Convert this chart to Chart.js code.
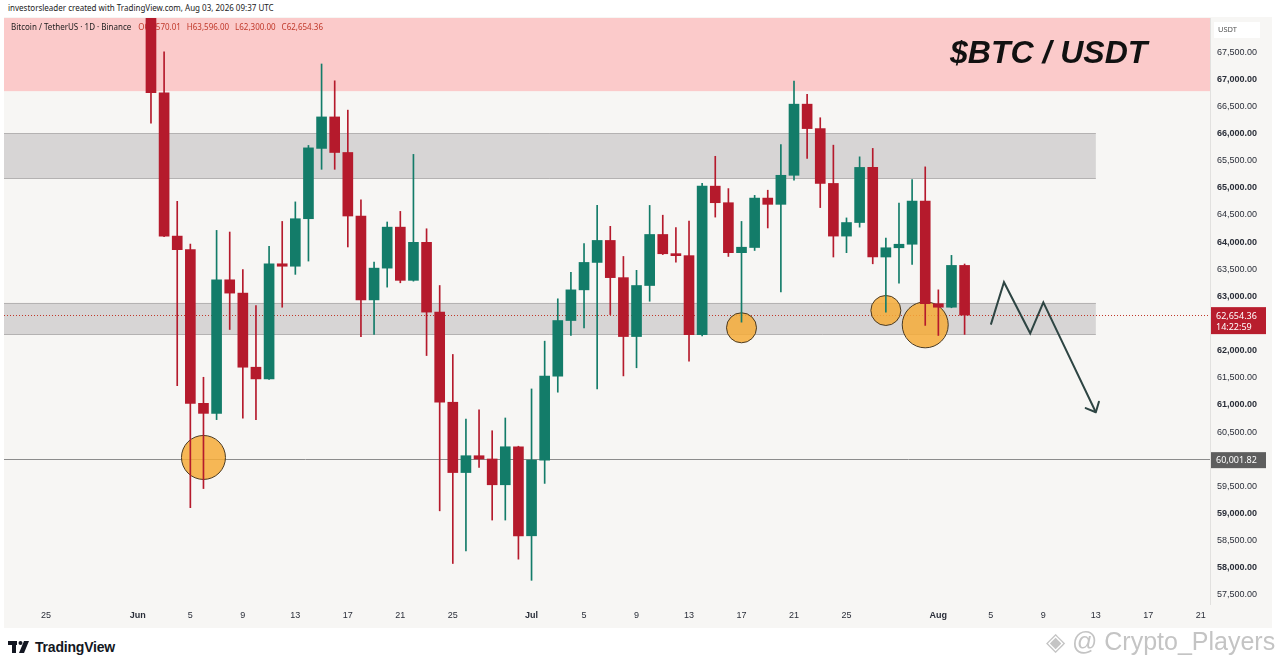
<!DOCTYPE html>
<html>
<head>
<meta charset="utf-8">
<script src="https://cdn.jsdelivr.net/npm/chart.js@4.4.1/dist/chart.umd.min.js"></script>
<style>
  html, body { margin: 0; padding: 0; background: #fff; width: 1280px; height: 668px; overflow: hidden; }
  body { font-family: "Noto Sans", sans-serif; position: relative; }
  #hdr { position: absolute; left: 8px; top: 2px; font-size: 8px; color: #222; white-space: nowrap; }
  #panel { position: absolute; left: 4px; top: 17px; width: 1268px; height: 611px; background: #f7f6f4; }
  #title { position: absolute; left: 950px; top: 36px; font: italic bold 32px/32px "Liberation Sans", Arial, sans-serif; color: #111; white-space: nowrap; }
  #logo { position: absolute; left: 8px; top: 638px; height: 18px; display: flex; align-items: center; }
  #logo span { font: bold 14px "Liberation Sans", Arial, sans-serif; color: #131722; margin-left: 3px; letter-spacing: -0.2px; }
  #wm { position: absolute; left: 1046px; top: 627px; font: 25px "Liberation Sans", Arial, sans-serif; color: #c4c4c4; white-space: nowrap; }
</style>
</head>
<body>
<div id="hdr">investorsleader created with TradingView.com, Aug 03, 2026 09:37 UTC</div>
<div id="panel"><canvas id="chart" width="1268" height="611"></canvas></div>
<div id="title">$BTC / USDT</div>
<div id="logo">
  <svg width="24" height="14" viewBox="0 0 24 14"><rect x="0" y="1" width="9" height="4" fill="#131722"/><rect x="4" y="1" width="4" height="12" fill="#131722"/><circle cx="12.5" cy="3" r="2" fill="#131722"/><polygon points="16,1 21,1 16,13 11,13" fill="#131722"/></svg>
  <span>TradingView</span>
</div>
<div id="wm">&#9672; @ Crypto_Players</div>
<script>
// daily candles, Jun 02 .. Aug 03
const candleDates = ['06-02','06-03','06-04','06-05','06-06','06-07','06-08','06-09','06-10','06-11',
  '06-12','06-13','06-14','06-15','06-16','06-17','06-18','06-19','06-20','06-21','06-22','06-23',
  '06-24','06-25','06-26','06-27','06-28','06-29','06-30','07-01','07-02','07-03','07-04','07-05',
  '07-06','07-07','07-08','07-09','07-10','07-11','07-12','07-13','07-14','07-15','07-16','07-17',
  '07-18','07-19','07-20','07-21','07-22','07-23','07-24','07-25','07-26','07-27','07-28','07-29',
  '07-30','07-31','08-01','08-02','08-03'];
const opens = [68500, 66750, 64110, 63860, 61030, 60845, 63305, 63060, 61695, 61480,
  63600, 63555, 64430, 65725, 66305, 65650, 64480, 62935, 63520, 64275, 63295, 63995,
  62710, 61050, 59755, 60065, 60005, 59530, 60230, 58590, 59985, 61530, 62555, 63120,
  63625, 64030, 63345, 62260, 63200, 64140, 63785, 63750, 62295, 65030, 64725, 63805,
  63900, 64810, 64695, 65230, 66540, 66090, 65080, 64110, 64360, 65375, 63725, 63895,
  63960, 64755, 62865, 62800, 63570.01];
const highs = [68900, 67505, 64750, 63965, 61510, 64215, 64185, 63495, 62830, 63920,
  64380, 64740, 65780, 67280, 66970, 66430, 64780, 63630, 64370, 64565, 65615, 64245,
  63200, 61930, 60740, 60910, 60525, 60760, 60240, 61295, 62175, 62955, 63445, 63970,
  64675, 64290, 63735, 63480, 64675, 64495, 64265, 64385, 65080, 65580, 64985, 64380,
  64860, 64955, 65795, 66965, 66720, 66290, 65785, 64445, 65570, 65725, 64075, 64720,
  65150, 65385, 63120, 63755, 63596];
const lows = [66190, 64100, 61355, 59110, 59460, 60730, 62390, 60755, 60730, 61470,
  62800, 63405, 63650, 65340, 65340, 63910, 62260, 62300, 63170, 63250, 63280, 61910,
  59050, 58080, 58310, 59850, 58880, 58880, 58160, 57770, 59555, 61235, 62280, 62420,
  61295, 62665, 61535, 61685, 62910, 63770, 63630, 61805, 62270, 64460, 63735, 62525,
  63845, 64260, 63080, 65140, 65540, 64635, 63725, 63805, 64275, 63600, 62710, 63245,
  63590, 62465, 62280, 62790, 62300];
const closes = [66750, 64110, 63860, 61030, 60845, 63305, 63060, 61695, 61480, 63600,
  63555, 64430, 65735, 66305, 65650, 64480, 62935, 63520, 64275, 63295, 63995, 62710,
  61050, 59755, 60065, 60005, 59530, 60230, 58590, 59985, 61530, 62555, 63120, 63625,
  64030, 63345, 62260, 63200, 64140, 63785, 63750, 62295, 65030, 64725, 63805, 63905,
  64810, 64695, 65230, 66540, 66090, 65080, 64110, 64360, 65375, 63725, 63895, 63960,
  64755, 62865, 62800, 63570.01, 62654.36];

const xTickDates = ['05-25','06-01','06-05','06-09','06-13','06-17','06-21','06-25','07-01','07-05',
  '07-09','07-13','07-17','07-21','07-25','08-01','08-05','08-09','08-13','08-17','08-21'];
const xTickLabels = ['25','Jun','5','9','13','17','21','25','Jul','5','9','13','17','21','25','Aug','5','9','13','17','21'];
const yTickValues = [57500, 58000, 58500, 59000, 59500, 60000, 60500, 61000, 61500, 62000, 62500,
  63000, 63500, 64000, 64500, 65000, 65500, 66000, 66500, 67000, 67500];

// supply / demand zones
const zoneHigh = [69000, 66000, 62880];
const zoneLow = [66780, 65175, 62300];
const zoneEndDates = [null, '08-13', '08-13'];

const supportLevel = 60001.82;
const lastPrice = 62654.36;
const lastCountdown = '14:22:59';
const legendText = 'Bitcoin / TetherUS \u00b7 1D \u00b7 Binance';
const legendOHLC = ['O63,570.01', 'H63,596.00', 'L62,300.00', 'C62,654.36'];

const markerDates = ['06-06', '07-17', '07-28', '07-31'];
const markerPrices = [60033, 62421, 62740, 62476];

const pathDates = ['08-05', '08-06', '08-08', '08-09', '08-13'];
const pathPrices = [62480, 63260, 62320, 62890, 60865];

const monthStart = { '05': 0, '06': 31, '07': 61, '08': 92 };
const dayNum = s => monthStart[s.slice(0, 2)] + parseInt(s.slice(3), 10);

const UP = '#137c69', DOWN = '#b51a2c';
const candleColor = i => closes[i] >= opens[i] ? UP : DOWN;
const fmt = v => v.toLocaleString('en-US', { minimumFractionDigits: 2, maximumFractionDigits: 2 });
const markerRadius = [22, 15, 15, 23];
const noPad = s => { s.paddingTop = 0; s.paddingBottom = 0; s.paddingLeft = 0; s.paddingRight = 0; };

const overlay = {
  id: 'overlay',
  beforeDatasetsDraw(chart) {
    const { ctx, chartArea: a, scales: { x, y } } = chart;
    ctx.save();
    ctx.beginPath();
    ctx.rect(a.left, a.top, a.width, a.height);
    ctx.clip();
    zoneHigh.forEach((hi, i) => {
      const x1 = zoneEndDates[i] ? x.getPixelForValue(dayNum(zoneEndDates[i])) : a.right;
      const yt = y.getPixelForValue(hi), yb = y.getPixelForValue(zoneLow[i]);
      ctx.fillStyle = i === 0 ? '#fbcaca' : '#d7d5d5';
      ctx.fillRect(a.left, yt, x1 - a.left, yb - yt);
      if (i > 0) {
        ctx.strokeStyle = '#b4b2b2';
        ctx.lineWidth = 1;
        ctx.beginPath();
        ctx.moveTo(a.left, Math.round(yt) + 0.5); ctx.lineTo(x1, Math.round(yt) + 0.5);
        ctx.moveTo(a.left, Math.round(yb) + 0.5); ctx.lineTo(x1, Math.round(yb) + 0.5);
        ctx.stroke();
      }
    });
    // horizontal level + last price line
    const ys = Math.round(y.getPixelForValue(supportLevel)) + 0.5;
    ctx.strokeStyle = '#8c8c8c';
    ctx.beginPath(); ctx.moveTo(a.left, ys); ctx.lineTo(a.right, ys); ctx.stroke();
    const yl = Math.round(y.getPixelForValue(lastPrice)) + 0.5;
    ctx.strokeStyle = '#c0392b';
    ctx.setLineDash([1, 2]);
    ctx.beginPath(); ctx.moveTo(a.left, yl); ctx.lineTo(a.right, yl); ctx.stroke();
    ctx.setLineDash([]);
    // highlighted reaction points
    markerDates.forEach((d, i) => {
      ctx.beginPath();
      ctx.arc(x.getPixelForValue(dayNum(d)), y.getPixelForValue(markerPrices[i]), markerRadius[i], 0, Math.PI * 2);
      ctx.fillStyle = 'rgba(246,172,56,0.85)';
      ctx.fill();
      ctx.strokeStyle = '#4a3a22';
      ctx.lineWidth = 1;
      ctx.stroke();
    });
    // legend line
    ctx.font = '8px "Noto Sans", sans-serif';
    ctx.textBaseline = 'middle';
    ctx.fillStyle = '#222';
    let tx = a.left + 7;
    const ty = a.top + 10;
    ctx.fillText(legendText, tx, ty);
    tx += ctx.measureText(legendText).width + 7;
    ctx.fillStyle = '#c0392b';
    legendOHLC.forEach(s => { ctx.fillText(s, tx, ty); tx += ctx.measureText(s).width + 6; });
    ctx.restore();
  },
  afterDatasetsDraw(chart) {
    const { ctx } = chart;
    const meta = chart.getDatasetMeta(chart.data.datasets.length - 1);
    const pts = meta.data;
    const tip = pts[pts.length - 1], prev = pts[pts.length - 2];
    const ang = Math.atan2(tip.y - prev.y, tip.x - prev.x) + Math.PI;
    ctx.save();
    ctx.strokeStyle = '#2e4543';
    ctx.lineWidth = 2;
    ctx.lineCap = 'round';
    ctx.beginPath();
    [-0.73, 0.73].forEach(d => {
      ctx.moveTo(tip.x, tip.y);
      ctx.lineTo(tip.x + 11 * Math.cos(ang + d), tip.y + 11 * Math.sin(ang + d));
    });
    ctx.stroke();
    ctx.restore();
  },
  afterDraw(chart) {
    const { ctx, chartArea: a, scales: { y } } = chart;
    const ax = a.right;
    ctx.save();
    // axis currency box
    ctx.fillStyle = '#ffffff';
    ctx.fillRect(ax + 4, a.top + 4, 46, 16);
    ctx.fillStyle = '#555';
    ctx.font = '7.5px "Noto Sans", sans-serif';
    ctx.textBaseline = 'middle';
    ctx.fillText('USDT', ax + 8, a.top + 12);
    // support tag
    const ys = y.getPixelForValue(supportLevel);
    ctx.fillStyle = '#5e5e5e';
    ctx.fillRect(ax + 1, ys - 7, 55, 16);
    ctx.fillStyle = '#fff';
    ctx.font = '9px "Noto Sans", sans-serif';
    ctx.fillText(fmt(supportLevel), ax + 6, ys + 1);
    // last price tag
    const yl = y.getPixelForValue(lastPrice);
    ctx.fillStyle = '#b81d2d';
    ctx.fillRect(ax + 1, yl - 8, 55, 27);
    ctx.fillStyle = '#fff';
    ctx.fillText(fmt(lastPrice), ax + 6, yl + 1);
    ctx.fillText(lastCountdown, ax + 6, yl + 12);
    ctx.restore();
  }
};

const body = candleDates.map((d, i) => ({ x: dayNum(d), y: [opens[i], closes[i]] }));
const wick = candleDates.map((d, i) => ({ x: dayNum(d), y: [lows[i], highs[i]] }));

new Chart(document.getElementById('chart'), {
  data: {
    datasets: [
      {
        type: 'bar',
        data: wick,
        backgroundColor: ctx => candleColor(ctx.dataIndex),
        barThickness: 1,
        grouped: false,
        order: 3
      },
      {
        type: 'bar',
        data: body,
        backgroundColor: ctx => candleColor(ctx.dataIndex),
        barThickness: 10,
        minBarLength: 2,
        grouped: false,
        order: 2
      },
      {
        type: 'line',
        data: pathDates.map((d, i) => ({ x: dayNum(d), y: pathPrices[i] })),
        borderColor: '#2e4543',
        borderWidth: 2,
        pointRadius: 0,
        tension: 0,
        order: 0
      }
    ]
  },
  options: {
    responsive: false,
    animation: false,
    events: [],
    layout: { padding: { left: 0, top: 1, right: 0, bottom: 0 } },
    plugins: { legend: { display: false }, tooltip: { enabled: false } },
    scales: {
      x: {
        type: 'linear',
        min: 21.8,
        max: 113.7,
        offset: false,
        grid: { display: false, drawTicks: false },
        border: { display: false },
        afterBuildTicks: s => { s.ticks = xTickDates.map(d => ({ value: dayNum(d) })); },
        afterFit: s => { s.height = 24; noPad(s); },
        ticks: {
          autoSkip: false,
          maxRotation: 0,
          padding: 6,
          color: '#2a2e39',
          font: ctx => ({ size: 9, weight: /[A-Za-z]/.test(xTickLabels[ctx.index] || '') ? 'bold' : 'normal' }),
          callback: (v, i) => xTickLabels[i]
        }
      },
      y: {
        type: 'linear',
        position: 'right',
        min: 57334,
        max: 68127,
        grid: { display: false, drawTicks: false },
        border: { display: true, color: '#e2e1df' },
        afterBuildTicks: s => { s.ticks = yTickValues.map(v => ({ value: v })); },
        afterFit: s => { s.width = 62; noPad(s); },
        ticks: {
          padding: 7,
          color: '#2a2e39',
          font: ctx => ({ size: 9, weight: ctx.tick && ctx.tick.value % 1000 === 0 ? 'bold' : 'normal' }),
          callback: v => fmt(v)
        }
      }
    }
  },
  plugins: [overlay]
});
</script>
</body>
</html>
